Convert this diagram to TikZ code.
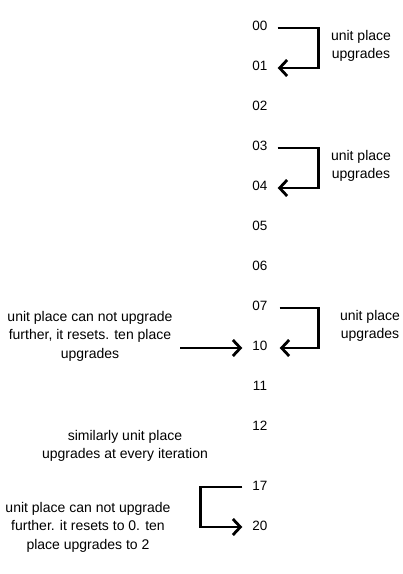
\documentclass[tikz,border=0pt]{standalone}
\usepackage{fontspec}
\setmainfont{Liberation Sans}
\usetikzlibrary{arrows.meta}
\begin{document}
\begin{tikzpicture}[x=1pt,y=-1pt,
  num/.style={inner sep=0pt,font=\fontsize{13.5}{15}\selectfont},
  lbl/.style={inner sep=0pt,align=center,font=\fontsize{14}{18.5}\selectfont},
  conn/.style={line width=2.8pt,-{Straight Barb[length=7.5pt,width=16pt,line width=2.8pt]}}]
\useasboundingbox[fill=white] (0,0) rectangle (403,574);
\node[num] (n00) at (260,26) {00};
\node[num] (n01) at (260,66) {01};
\node[num] (n02) at (260,106) {02};
\node[num] (n03) at (260,146) {03};
\node[num] (n04) at (260,186) {04};
\node[num] (n05) at (260,226) {05};
\node[num] (n06) at (260,266) {06};
\node[num] (n07) at (260,306) {07};
\node[num] (n10) at (260,346) {10};
\node[num] (n11) at (260,386) {11};
\node[num] (n12) at (260,426) {12};
\node[num] (n17) at (260,486) {17};
\node[num] (n20) at (260,526) {20};
\node[lbl] (l1) at (361,46) {unit place\\upgrades};
\node[lbl] (l2) at (361,166) {unit place\\upgrades};
\node[lbl] (l3) at (370,326) {unit place\\upgrades};
\node[lbl] (l4) at (90,336) {unit place can not upgrade\\further, it resets. ten place\\upgrades};
\node[lbl] (l5) at (125,446) {similarly unit place\\upgrades at every iteration};
\node[lbl] (l6) at (88,527) {unit place can not upgrade\\further. it resets to 0. ten\\place upgrades to 2};
\draw[conn] ([xshift=10pt,yshift=-2pt]n00.east) -- ++(41,0) |- ([xshift=10pt,yshift=-2pt]n01.east);
\draw[conn] ([xshift=10pt,yshift=-2pt]n03.east) -- ++(41,0) |- ([xshift=10pt,yshift=-2pt]n04.east);
\draw[conn] ([xshift=12pt,yshift=-2pt]n07.east) -- ++(39,0) |- ([xshift=12pt,yshift=-2pt]n10.east);
\coordinate (a4) at (180,348);
\draw[conn] (a4) -- ([xshift=-10pt,yshift=-2pt]n10.west);
\draw[conn] ([xshift=-10pt,yshift=-1pt]n17.west) -- ++(-42,0) |- ([xshift=-10pt,yshift=-1pt]n20.west);
\end{tikzpicture}
\end{document}
